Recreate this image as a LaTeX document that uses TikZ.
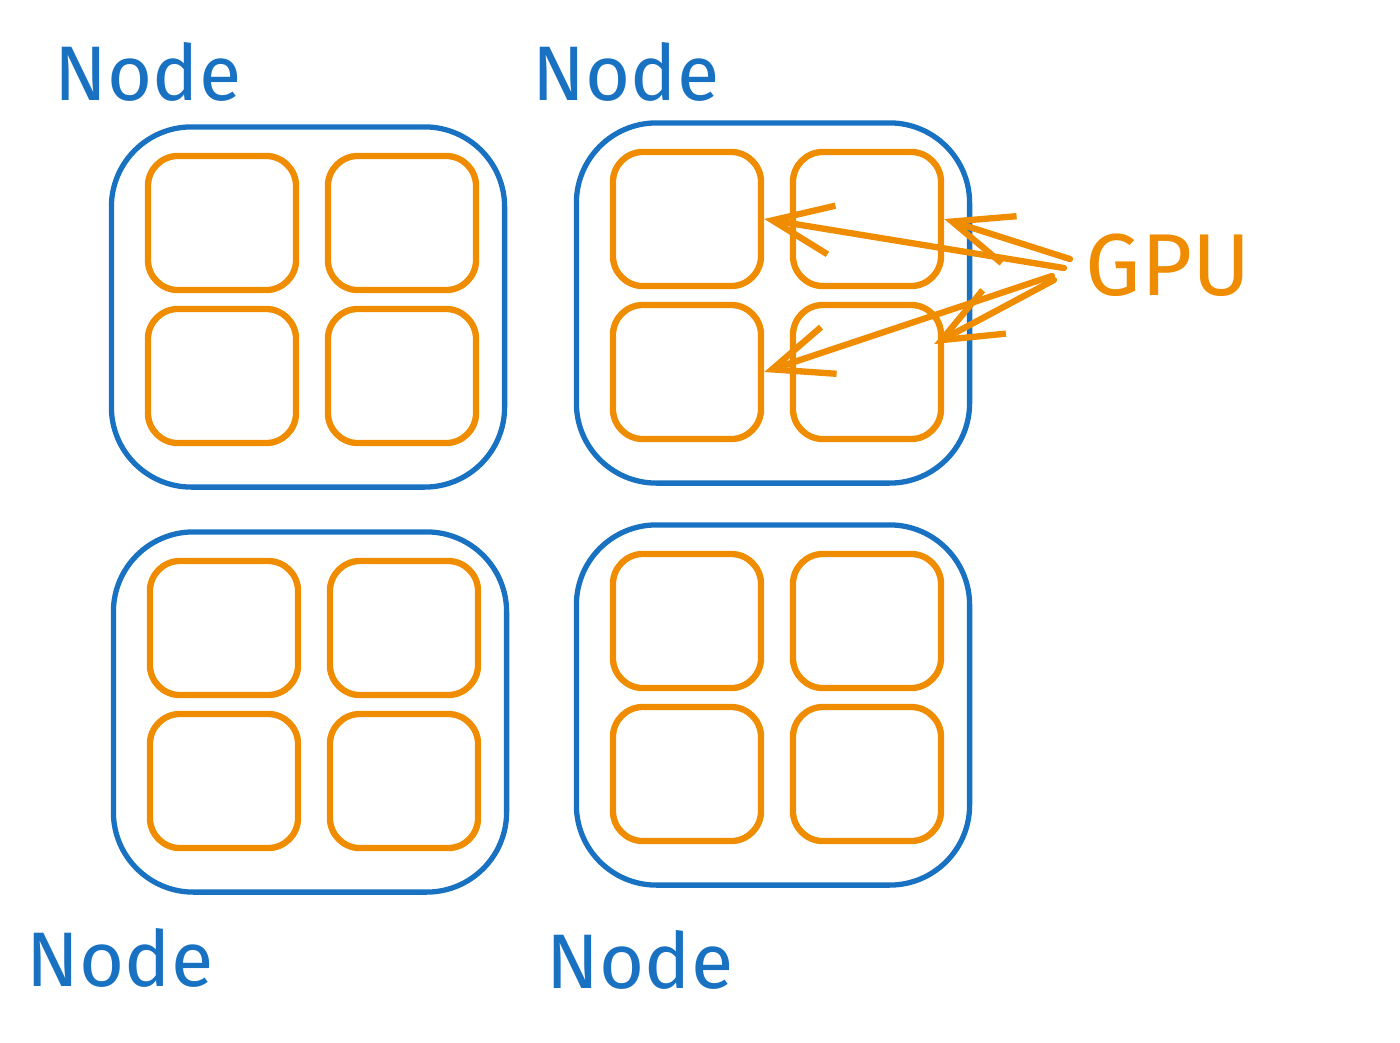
\documentclass[tikz,border=0pt]{standalone}
\usepackage{fontspec}
\setmainfont{Fira Sans}
\usepackage{xcolor}
\usetikzlibrary{arrows.meta, positioning, calc}
\definecolor{hostblue}{HTML}{1971C2}
\definecolor{gpuorange}{HTML}{F08C00}

\begin{document}
\begin{tikzpicture}[x=0.01cm, y=-0.01cm,
    hostbox/.style={draw=hostblue, line width=1.5pt, rounded corners=0.8cm,
        minimum width=3.93cm, minimum height=3.6cm, inner sep=0pt},
    gpubox/.style={draw=gpuorange, line width=1.8pt, rounded corners=0.3cm,
        minimum width=1.48cm, minimum height=1.34cm, inner sep=0pt},
    hostlabel/.style={text=hostblue, inner sep=0pt, font=\fontsize{22}{26}\selectfont},
    gpulabel/.style={text=gpuorange, inner sep=0pt, font=\fontsize{25}{30}\selectfont},
    gpuarrow/.style={draw=gpuorange, line width=1.8pt, line cap=round,
        -{Straight Barb[length=17pt, width=14pt, line width=1.8pt]}}]
    \useasboundingbox (0,0) rectangle (1400,1042);
    % four hosts, four GPUs each
    \foreach \n/\x/\y in {tl/308/307, tr/773/303, bl/310/712, br/773/705} {
        \node[hostbox] (\n) at (\x,\y) {};
        \node[gpubox] (\n-a) at ($(\n)+(-86,-84)$) {};
        \node[gpubox] (\n-b) at ($(\n)+(94,-84)$) {};
        \node[gpubox] (\n-c) at ($(\n)+(-86,69)$) {};
        \node[gpubox] (\n-d) at ($(\n)+(94,69)$) {};
    }
    \node[hostlabel] (tl-label) at (148,72) {Node};
    \node[hostlabel] (tr-label) at (626,72) {Node};
    \node[hostlabel] (bl-label) at (120,958) {Node};
    \node[hostlabel] (br-label) at (640,960) {Node};
    \node[gpulabel] (gpu) at (1168,265) {GPU};
    % arrows from the GPU label
    \coordinate (ga) at ($(gpu.west)+(-21,3)$);
    \coordinate (gb) at ($(gpu.west)+(-15,-6)$);
    \coordinate (gc) at ($(gpu.west)+(-33,11)$);
    \coordinate (gd) at ($(gpu.west)+(-31,15)$);
    \coordinate (tr-d-tip) at ($(tr-d.east)+(-10,-28)$);
    \draw[gpuarrow] (ga) -- (tr-a.east);
    \draw[gpuarrow] (gb) -- (tr-b.east);
    \draw[gpuarrow] (gc) -- (tr-c.east);
    \draw[gpuarrow] (gd) -- (tr-d-tip);
\end{tikzpicture}
\end{document}
